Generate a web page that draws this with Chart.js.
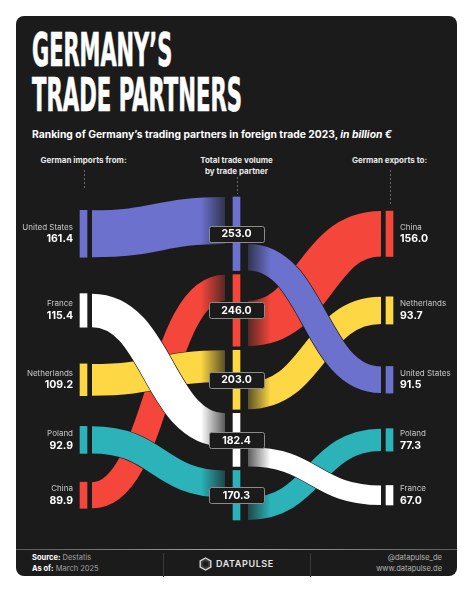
<!DOCTYPE html>
<html><head><meta charset="utf-8">
<script src="https://cdn.jsdelivr.net/npm/chart.js@4/dist/chart.umd.min.js"></script>
<style>
html,body{margin:0;padding:0;background:#fff;}
body{width:474px;height:592px;position:relative;overflow:hidden;font-family:Inter,'Noto Sans',sans-serif;}
.card{position:absolute;left:16px;top:16px;width:441px;height:560px;background:#1b1b1b;border-radius:8px;}
.t{position:absolute;white-space:nowrap;color:#fff;transform-origin:0 50%;}
.title{font-family:'Liberation Sans Narrow','DejaVu Sans Condensed',Roboto,sans-serif;font-weight:700;font-size:46px;line-height:46px;left:32px;-webkit-text-stroke:0.7px #fff;}
.sub{font-weight:700;font-size:9.7px;line-height:14px;left:32px;top:128px;}
.hdr{position:absolute;width:130px;text-align:center;color:#e8e8e8;font-weight:700;font-size:8px;line-height:10.5px;}
.sep{position:absolute;left:16px;top:548.5px;width:441px;height:1.5px;background:linear-gradient(90deg,#5a5a5a,#a5a5a5 50%,#5a5a5a);}
.vd{position:absolute;top:553px;width:1px;height:24px;background:#3a3a3a;}
.ft{position:absolute;font-size:7.5px;line-height:10.5px;color:#a0a0a0;white-space:nowrap;}
.ft b{color:#fff;font-weight:700;}
.logo{position:absolute;left:216px;top:558px;font-size:9px;line-height:12px;font-weight:600;letter-spacing:0.6px;color:#e6e6e6;}
canvas{position:absolute;left:0;top:0;}
</style></head><body>
<div class="card"></div>
<div class="t title" id="t1" style="top:27px">GERMANY’S</div>
<div class="t title" id="t2" style="top:72px">TRADE PARTNERS</div>
<div class="t sub" id="sub">Ranking of Germany’s trading partners in foreign trade 2023, <i>in billion €</i></div>
<div class="hdr" style="left:18.5px;top:155px">German imports from:</div>
<div class="hdr" style="left:171.5px;top:155.25px">Total trade volume<br>by trade partner</div>
<div class="hdr" style="left:324.5px;top:155px">German exports to:</div>
<div class="sep"></div>
<div class="vd" style="left:163px"></div><div class="vd" style="left:310px"></div>
<div class="ft" style="left:32px;top:553px"><b>Source:</b> Destatis<br><b>As of:</b> March 2025</div>
<div class="ft" style="right:32px;top:553px;text-align:right;color:#b5b5b5">@datapulse_de<br>www.datapulse.de</div>
<svg style="position:absolute;left:199px;top:557px" width="13" height="14" viewBox="0 0 13 14">
<polygon points="6.5,1 11.8,4 11.8,10 6.5,13 1.2,10 1.2,4" fill="#3c3c3c" stroke="#d8d8d8" stroke-width="1.4"/>
<polygon points="6.5,4 9.2,5.5 9.2,8.5 6.5,10 3.8,8.5 3.8,5.5" fill="#1b1b1b"/>
</svg>
<div class="logo">DATAPULSE</div>
<canvas id="c" width="474" height="592"></canvas>
<script>
// ---- data ----
const totalPartners = ['United States','China','Netherlands','France','Poland'];
const totalVolume   = [253.0, 246.0, 203.0, 182.4, 170.3];
const importPartners = ['United States','France','Netherlands','Poland','China'];
const importValues   = [161.4, 115.4, 109.2, 92.9, 89.9];
const exportPartners = ['China','Netherlands','United States','Poland','France'];
const exportValues   = [156.0, 93.7, 91.5, 77.3, 67.0];

// ---- style ----
const BG = '#1b1b1b';
const COLORS = {'United States':'#6b71cd','China':'#f4463a','Netherlands':'#fdd744','France':'#ffffff','Poland':'#2bb3b9'};
const DRAW_ORDER = ['China','Netherlands','Poland','France','United States'];
const GAP = 14;

function fit(id,w){const el=document.getElementById(id);el.style.transform='scaleX('+(w/el.offsetWidth)+')';}
fit('t1',140); fit('t2',210); fit('sub',360);

const cStart=[], cEnd=[], rowMid=[];
let acc=0;
totalVolume.forEach(v=>{cStart.push(acc);cEnd.push(acc+v);rowMid.push(acc+v/2);acc+=v+GAP;});
const SPAN = acc-GAP;

function hexToRgb(h){h=h.replace('#','');return [0,2,4].map(i=>parseInt(h.substr(i,2),16));}
function mix(a,b,t){const A=hexToRgb(a),B=hexToRgb(b);return 'rgb('+A.map((v,i)=>Math.round(v*(1-t)+B[i]*t)).join(',')+')';}

function link(ctx,x0,y0,x1,y1,w,style){
  const m=(x0+x1)/2;
  ctx.beginPath();ctx.moveTo(x0,y0);ctx.bezierCurveTo(m,y0,m,y1,x1,y1);
  ctx.lineCap='butt';
  ctx.lineWidth=w+1.2;ctx.strokeStyle=BG;ctx.stroke();
  ctx.lineWidth=w;ctx.strokeStyle=style;ctx.stroke();
}

const flowPlugin={
  id:'flows',
  beforeDatasetsDraw(chart){
    const ctx=chart.ctx, xs=chart.scales.x, ys=chart.scales.y;
    const half=3.5;
    const px=v=>Math.abs(ys.getPixelForValue(v)-ys.getPixelForValue(0));
    const xL0=xs.getPixelForValue(0)+half+5, xL1=xs.getPixelForValue(1)-half-8;
    const xR0=xs.getPixelForValue(1)+half+8, xR1=xs.getPixelForValue(2)-half-5;
    ctx.save();
    ctx.strokeStyle='#6a6a6a';ctx.lineWidth=1;ctx.setLineDash([2,2]);
    [[0,170,188],[1,177,194],[2,170,206]].forEach(([c,a,b])=>{
      const x=Math.round(xs.getPixelForValue(c))+0.5;
      ctx.beginPath();ctx.moveTo(x,a);ctx.lineTo(x,b);ctx.stroke();
    });
    ctx.setLineDash([]);
    DRAW_ORDER.forEach(c=>{
      const ci=totalPartners.indexOf(c), li=importPartners.indexOf(c), ri=exportPartners.indexOf(c);
      const imp=importValues[li], exp=exportValues[ri], col=COLORS[c];
      const gL=ctx.createLinearGradient(xL0,0,xL1,0);
      gL.addColorStop(0,col);gL.addColorStop(0.82,col);gL.addColorStop(1,mix(col,BG,0.72));
      link(ctx,xL0,ys.getPixelForValue(rowMid[li]),xL1,ys.getPixelForValue(cStart[ci]+imp/2),px(imp),gL);
      const gR=ctx.createLinearGradient(xR0,0,xR1,0);
      gR.addColorStop(0,mix(col,BG,0.72));gR.addColorStop(0.17,col);gR.addColorStop(1,col);
      link(ctx,xR0,ys.getPixelForValue(cStart[ci]+imp+exp/2),xR1,ys.getPixelForValue(rowMid[ri]),px(exp),gR);
    });
    ctx.restore();
  },
  afterDatasetsDraw(chart){
    const ctx=chart.ctx, xs=chart.scales.x, ys=chart.scales.y;
    ctx.save();
    const xl=xs.getPixelForValue(0)-10.5, xc=xs.getPixelForValue(1), xr=xs.getPixelForValue(2)+10.5;
    ctx.textBaseline='middle';
    for(let i=0;i<totalPartners.length;i++){
      const y=ys.getPixelForValue(rowMid[i]);
      ctx.textAlign='right';
      ctx.fillStyle='#c8c8c8';ctx.font='400 8px Inter';ctx.fillText(importPartners[i],xl,y-6.5);
      ctx.fillStyle='#fff';ctx.font='700 10.5px Inter';ctx.fillText(importValues[i].toFixed(1),xl,y+5.5);
      ctx.textAlign='left';
      ctx.fillStyle='#c8c8c8';ctx.font='400 8px Inter';ctx.fillText(exportPartners[i],xr,y-6.5);
      ctx.fillStyle='#fff';ctx.font='700 10.5px Inter';ctx.fillText(exportValues[i].toFixed(1),xr,y+5.5);
      const bw=55,bh=16,bx=Math.round(xc-bw/2)+0.5,by=Math.round(y-bh/2)+0.5;
      ctx.beginPath();
      if(ctx.roundRect) ctx.roundRect(bx,by,bw,bh,2); else ctx.rect(bx,by,bw,bh);
      ctx.fillStyle=BG;ctx.fill();ctx.strokeStyle='#8c8c8c';ctx.lineWidth=1;ctx.stroke();
      ctx.textAlign='center';ctx.fillStyle='#fff';ctx.font='700 10.5px Inter';
      ctx.fillText(totalVolume[i].toFixed(1),xc,y+0.5);
    }
    ctx.restore();
  }
};

const barOpts={barThickness:7,grouped:false,borderWidth:0,clip:false};
new Chart(document.getElementById('c'),{
  type:'bar',
  data:{datasets:[
    Object.assign({label:'German imports from',data:importValues.map((v,i)=>({x:0,y:[rowMid[i]-v/2,rowMid[i]+v/2]})),backgroundColor:importPartners.map(c=>COLORS[c])},barOpts),
    Object.assign({label:'Total trade volume',data:totalVolume.map((v,i)=>({x:1,y:[cStart[i],cEnd[i]]})),backgroundColor:totalPartners.map(c=>COLORS[c])},barOpts),
    Object.assign({label:'German exports to',data:exportValues.map((v,i)=>({x:2,y:[rowMid[i]-v/2,rowMid[i]+v/2]})),backgroundColor:exportPartners.map(c=>COLORS[c])},barOpts)
  ]},
  options:{
    responsive:false,animation:false,devicePixelRatio:1,events:[],
    layout:{padding:{left:7,right:8,top:197,bottom:72}},
    scales:{
      x:{type:'linear',min:-0.5,max:2.5,offset:false,display:false},
      y:{type:'linear',min:0,max:SPAN,reverse:true,display:false}
    },
    plugins:{legend:{display:false},tooltip:{enabled:false},title:{display:false}}
  },
  plugins:[flowPlugin]
});
</script>
</body></html>
